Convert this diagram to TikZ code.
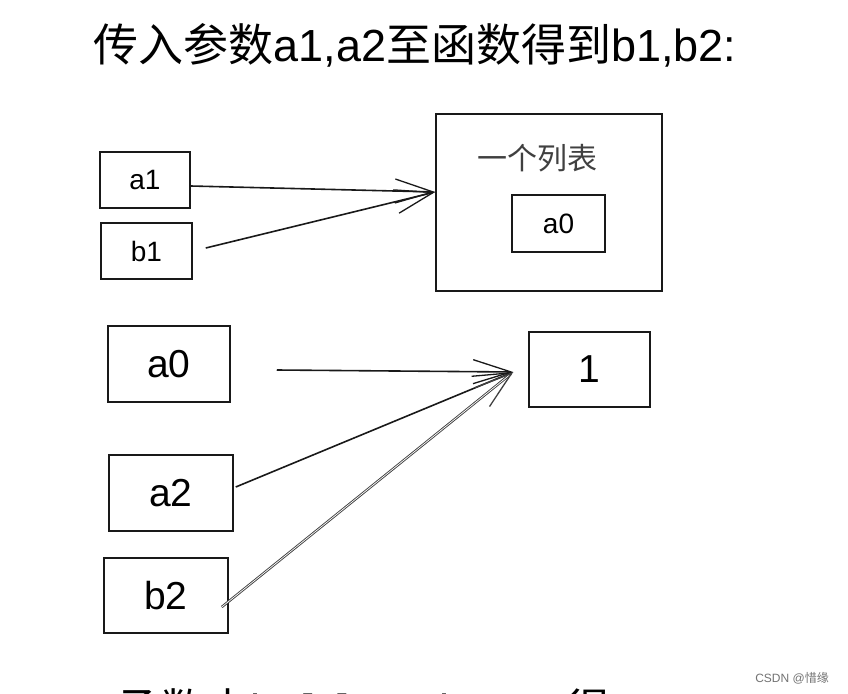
\documentclass[tikz,border=0pt]{standalone}
\usepackage{fontspec}
\setmainfont{Liberation Sans}
\newfontfamily\cjk{Noto Sans CJK SC}
\usetikzlibrary{arrows.meta}
\begin{document}
\begin{tikzpicture}[x=1pt,y=-1pt,
  box/.style={draw=black!90, line width=1.5pt, inner sep=0pt, rectangle},
  small/.style={font=\fontsize{28}{28}\selectfont},
  big/.style={font=\fontsize{39}{39}\selectfont},
  head/.style={font=\fontsize{45}{45}\selectfont},
  arr/.style={-{Straight Barb[length=38pt,width=24pt,line width=1.3pt]}, line width=1.6pt, draw=black!90}]
\clip (0,0) rectangle (848,693);
\fill[white] (0,0) rectangle (848,693);
\node[head, anchor=base, inner sep=0pt] (title) at (415,62) {{\cjk 传入参数}a1,a2{\cjk 至函数得到}b1,b2:};
% top group
\node[box, small, minimum width=90pt, minimum height=56pt] (a1) at (145,180) {a1};
\node[box, small, minimum width=91pt, minimum height=56pt] (b1) at (146.5,251) {b1};
\node[box, minimum width=226pt, minimum height=177pt] (list) at (549,202.5) {};
\node[font=\fontsize{30}{30}\selectfont\cjk, text=black!75, inner sep=0pt] (lab) at (537,158) {一个列表};
\node[box, small, minimum width=93pt, minimum height=57pt] (ia0) at (558.5,223.5) {a0};
\coordinate (tL) at ([yshift=10.5pt]list.west);
\draw[arr] ([yshift=-6pt]a1.east) -- (tL);
\draw[arr] ([xshift=13pt,yshift=3pt]b1.east) -- (tL);
% bottom group
\node[box, big, minimum width=122pt, minimum height=76pt] (a0) at (169,364) {a0};
\node[box, big, minimum width=124pt, minimum height=76pt] (a2) at (171,493) {a2};
\node[box, big, minimum width=124pt, minimum height=75pt] (b2) at (166,595.5) {b2};
\node[box, big, minimum width=121pt, minimum height=75pt] (one) at (589.5,369.5) {1};
\coordinate (t1) at ([xshift=-15pt,yshift=-2.5pt]one.west);
\draw[arr] ([xshift=46pt,yshift=-6pt]a0.east) -- (t1);
\draw[arr] ([xshift=2pt,yshift=6pt]a2.east) -- (t1);
\draw[arr, draw=black!75, double=white, double distance=0.7pt, line width=0.9pt] ([xshift=-7pt,yshift=-11.5pt]b2.east) -- (t1);
% cut-off text and watermark
\node[head, anchor=base west, inner sep=0pt] (bottom) at (115,726) {{\cjk 函数内}b1[0]=a1,b2=a1{\cjk 得}:};
\node[font=\fontsize{12}{12}\selectfont, text=black!55, inner sep=0pt] (wm) at (792,678) {CSDN @{\cjk 惜缘}};
\end{tikzpicture}
\end{document}
